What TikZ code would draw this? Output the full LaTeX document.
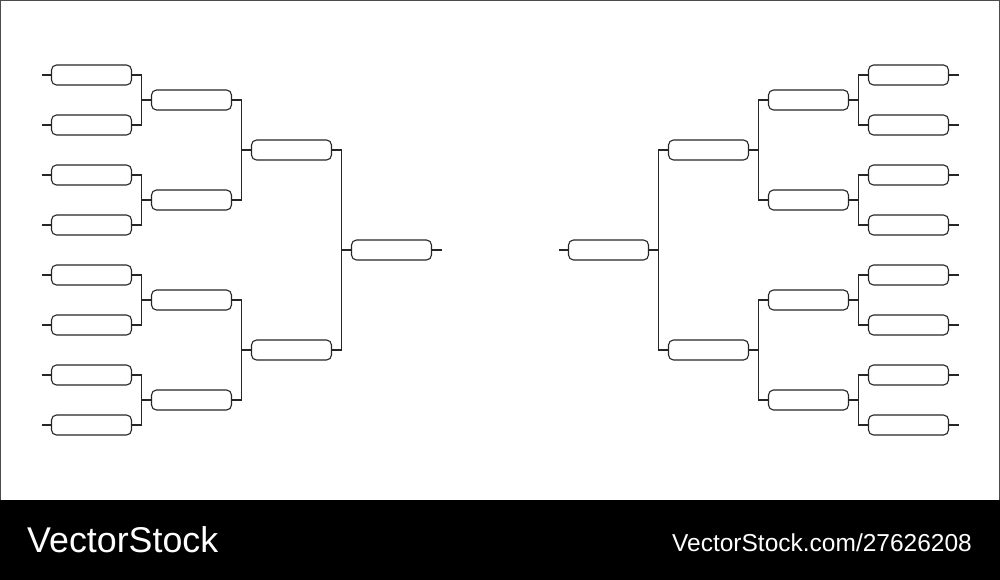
\documentclass[tikz,border=0pt]{standalone}
\usepackage{fontspec}
\setmainfont{Liberation Sans}
\begin{document}
\begin{tikzpicture}[x=1pt,y=-1pt,
  box/.style={draw=black!85,line width=1.1pt,rounded corners=5pt,minimum width=80pt,minimum height=20pt,inner sep=0pt,outer sep=0pt},
  conn/.style={draw=black!85,line width=1.1pt}]
\useasboundingbox (0,0) rectangle (1000,580);
\draw[draw=black!70,line width=1pt,fill=white] (0.5,0.5) rectangle (999.5,500);
\fill[black] (0,500) rectangle (1000,580);
% left side
\foreach \i in {1,...,8} \node[box] (L1-\i) at (91.5,25+50*\i) {};
\foreach \i in {1,...,4} \node[box] (L2-\i) at (191.5,100*\i) {};
\foreach \i in {1,2} \node[box] (L3-\i) at (291.5,-50+200*\i) {};
\node[box] (LF) at (391.5,250) {};
% right side
\foreach \i in {1,...,8} \node[box] (R1-\i) at (908.5,25+50*\i) {};
\foreach \i in {1,...,4} \node[box] (R2-\i) at (808.5,100*\i) {};
\foreach \i in {1,2} \node[box] (R3-\i) at (708.5,-50+200*\i) {};
\node[box] (RF) at (608.5,250) {};
% stubs
\foreach \i in {1,...,8} {
  \draw[conn] (L1-\i.west) -- ++(-10,0);
  \draw[conn] (R1-\i.east) -- ++(10,0);
}
\draw[conn] (LF.east) -- ++(10,0);
\draw[conn] (RF.west) -- ++(-10,0);
% round 1 -> round 2
\foreach \i in {1,...,4} {
  \pgfmathtruncatemacro\ma{2*\i-1}
  \pgfmathtruncatemacro\mb{2*\i}
  \draw[conn] (L1-\ma.east) -| ([xshift=-10pt]L2-\i.west) |- (L1-\mb.east);
  \draw[conn] ([xshift=-10pt]L2-\i.west) -- (L2-\i.west);
  \draw[conn] (R1-\ma.west) -| ([xshift=10pt]R2-\i.east) |- (R1-\mb.west);
  \draw[conn] ([xshift=10pt]R2-\i.east) -- (R2-\i.east);
}
% round 2 -> round 3
\foreach \i in {1,2} {
  \pgfmathtruncatemacro\ma{2*\i-1}
  \pgfmathtruncatemacro\mb{2*\i}
  \draw[conn] (L2-\ma.east) -| ([xshift=-10pt]L3-\i.west) |- (L2-\mb.east);
  \draw[conn] ([xshift=-10pt]L3-\i.west) -- (L3-\i.west);
  \draw[conn] (R2-\ma.west) -| ([xshift=10pt]R3-\i.east) |- (R2-\mb.west);
  \draw[conn] ([xshift=10pt]R3-\i.east) -- (R3-\i.east);
}
% round 3 -> final
\draw[conn] (L3-1.east) -| ([xshift=-10pt]LF.west) |- (L3-2.east);
\draw[conn] ([xshift=-10pt]LF.west) -- (LF.west);
\draw[conn] (R3-1.west) -| ([xshift=10pt]RF.east) |- (R3-2.west);
\draw[conn] ([xshift=10pt]RF.east) -- (RF.east);
% watermark band
\node[anchor=base west,inner sep=0pt,text=white,font=\fontsize{35.8}{40}\selectfont] (wm1) at (27,552) {VectorStock};
\node[anchor=base east,inner sep=0pt,text=white,font=\fontsize{24.5}{28}\selectfont] (wm2) at (972,551) {VectorStock.com/27626208};
\end{tikzpicture}
\end{document}
